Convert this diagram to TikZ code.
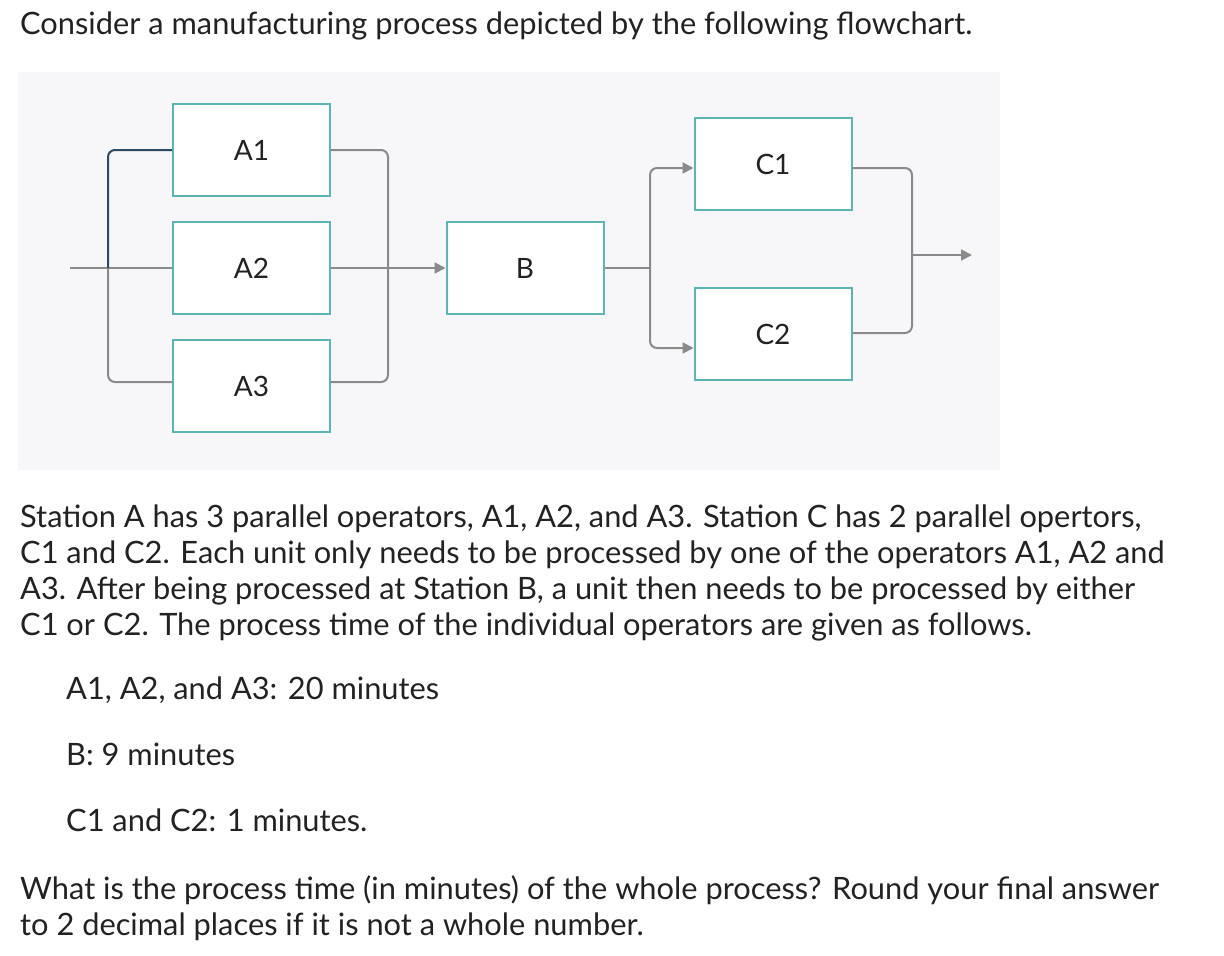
\documentclass[tikz,border=0pt]{standalone}
\usepackage{fontspec}
\setmainfont{Lato}
\usetikzlibrary{arrows.meta}
\definecolor{teal1}{HTML}{5BB5B5}
\definecolor{ln}{HTML}{8A8A8A}
\definecolor{panel}{HTML}{F7F7F9}
\definecolor{navy}{HTML}{2C4A63}
\definecolor{txt}{HTML}{222222}
\tikzset{
  box/.style={draw=teal1,line width=2pt,fill=white,minimum width=157pt,minimum height=92pt,inner sep=0pt,font=\fontsize{28}{32}\selectfont,text=txt},
  wire/.style={draw=ln,line width=2pt,rounded corners=7pt},
  arr/.style={wire,-{Triangle[length=11pt,width=11pt]}},
  para/.style={anchor=north west,align=left,inner sep=0pt,text=txt,font=\fontsize{30.8}{36}\selectfont}
}
\begin{document}
\begin{tikzpicture}[x=1pt,y=-1pt]
\useasboundingbox (0,0) rectangle (1224,956);
\fill[panel] (18,72) rectangle (1000,470);
\node[para] (title) at (20,12) {Consider a manufacturing process depicted by the following flowchart.};
\node[box] (A1) at (251.5,150) {A1};
\node[box] (A2) at (251.5,268) {A2};
\node[box] (A3) at (251.5,386) {A3};
\node[box] (B) at (525,268) {B};
\node[box] (C1) at (773,164) {C1};
\node[box] (C2) at (773,334) {C2};
\coordinate (in) at (70,268);
\coordinate (out) at (972,255);
\coordinate (jA) at (388,268);
\coordinate (jB) at (650,268);
\coordinate (jC) at (912,255);
\draw[wire] (in) -- (A2.west);
\draw[draw=navy,line width=2pt,rounded corners=7pt] (A1.west) -- (108,150) -- (108,268);
\draw[wire] (108,268) -- (108,382) -- (A3.west |- 0,382);
\draw[wire] (A1.east) -- (388,150) -- (jA);
\draw[wire] (A3.east |- 0,382) -- (388,382) -- (jA);
\draw[arr] (A2.east) -- (B.west);
\draw[wire] (B.east) -- (jB);
\draw[arr] (jB) -- (650,168) -- (C1.west |- 0,168);
\draw[arr] (jB) -- (650,348) -- (C2.west |- 0,348);
\draw[wire] (C1.east |- 0,168) -- (912,168) -- (jC);
\draw[wire] (C2.east |- 0,333) -- (912,333) -- (jC);
\draw[arr] (jC) -- (out);
\node[para] (p1) at (20,505) {Station A has 3 parallel operators, A1, A2, and A3. Station C has 2 parallel opertors,\\
C1 and C2. Each unit only needs to be processed by one of the operators A1, A2 and\\
A3. After being processed at Station B, a unit then needs to be processed by either\\
C1 or C2. The process time of the individual operators are given as follows.};
\node[para] (p2) at (66,677) {A1, A2, and A3: 20 minutes};
\node[para] (p3) at (66,743) {B: 9 minutes};
\node[para] (p4) at (66,809) {C1 and C2: 1 minutes.};
\node[para] (p5) at (20,875) {What is the process time (in minutes) of the whole process? Round your final answer\\
to 2 decimal places if it is not a whole number.};
\end{tikzpicture}
\end{document}
